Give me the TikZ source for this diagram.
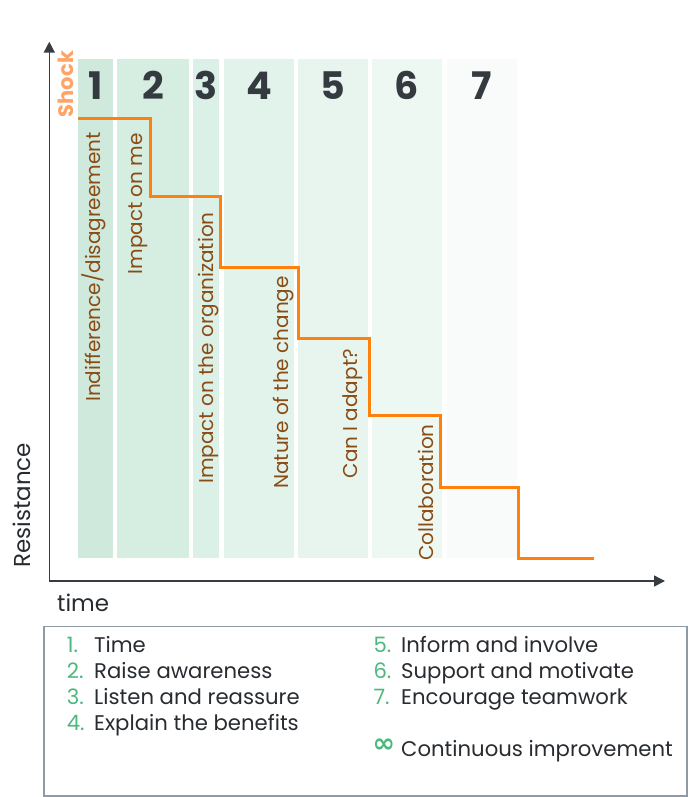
\documentclass[tikz,border=0pt]{standalone}
\usepackage{fontspec}
\setmainfont{Poppins}
\newfontfamily\symfont{DejaVu Sans}
\usetikzlibrary{arrows.meta}
\definecolor{cA}{RGB}{207,234,221}
\definecolor{cB}{RGB}{214,237,226}
\definecolor{cC}{RGB}{219,240,230}
\definecolor{cD}{RGB}{225,243,234}
\definecolor{cE}{RGB}{231,245,238}
\definecolor{cF}{RGB}{238,248,243}
\definecolor{cG}{RGB}{248,251,250}
\definecolor{stepor}{RGB}{255,128,10}
\definecolor{shockor}{RGB}{255,163,102}
\definecolor{labbrown}{RGB}{138,76,20}
\definecolor{numdark}{RGB}{52,58,64}
\definecolor{axisdark}{RGB}{55,60,66}
\definecolor{leggreen}{RGB}{76,184,125}
\definecolor{legtext}{RGB}{40,44,48}
\definecolor{boxgray}{RGB}{143,154,165}
\tikzset{
  bignum/.style={font=\fontsize{38}{40}\selectfont\bfseries, text=numdark, inner sep=0, anchor=base},
  vlabel/.style={font=\fontsize{20}{22}\selectfont, text=labbrown, rotate=90, inner sep=0, anchor=base east},
  axisline/.style={draw=axisdark, line width=1.5pt, -{Triangle[length=11pt,width=11pt]}},
  stepline/.style={draw=stepor, line width=3pt, line join=miter},
  legnum/.style={font=\fontsize{21.2}{23}\selectfont, text=leggreen, inner sep=0, anchor=base west},
  legitem/.style={font=\fontsize{21.2}{23}\selectfont, text=legtext, inner sep=0, anchor=base west},
  axlabel/.style={font=\fontsize{23}{25}\selectfont, text=legtext, inner sep=0}
}
\begin{document}
\begin{tikzpicture}[x=1pt,y=-1pt]
\useasboundingbox (0,0) rectangle (688,797);
% columns
\fill[cA] (77.7,59.3) rectangle (112.7,557.7);
\fill[cB] (117,59.3) rectangle (188.7,557.7);
\fill[cC] (192.7,59.3) rectangle (219.3,557.7);
\fill[cD] (224,59.3) rectangle (294,557.7);
\fill[cE] (298.3,59.3) rectangle (367.7,557.7);
\fill[cF] (372,59.3) rectangle (442,557.7);
\fill[cG] (446.7,59.3) rectangle (516.7,557.7);
% numbers
\node[bignum] (n1) at (95.2,100) {1};
\node[bignum] (n2) at (152.9,100) {2};
\node[bignum] (n3) at (206,100) {3};
\node[bignum] (n4) at (259,100) {4};
\node[bignum] (n5) at (333,100) {5};
\node[bignum] (n6) at (407,100) {6};
\node[bignum] (n7) at (481.7,100) {7};
% axes
\coordinate (origin) at (49.3,581);
\coordinate (ytip) at (49.3,41.7);
\coordinate (xtip) at (665,581);
\draw[axisline] (origin) -- (ytip);
\draw[axisline] (origin) -- (xtip);
% step line
\draw[stepline] (78,119) -- (150,119) -- (150,196) -- (220.7,196) -- (220.7,267.7)
  -- (298.3,267.7) -- (298.3,338.3) -- (369,338.3) -- (369,415.7) -- (440.7,415.7)
  -- (440.7,487.3) -- (518.3,487.3) -- (518.3,558.7) -- (594.3,558.7);
% labels
\node[font=\fontsize{21}{23}\selectfont\bfseries, text=shockor, rotate=90, inner sep=0, anchor=base west] (shock) at (73.3,117.3) {Shock};
\node[vlabel] (l1) at (100,132) {Indifference/disagreement};
\node[vlabel] (l2) at (142,133) {Impact on me};
\node[vlabel] (l3) at (213,212) {Impact on the organization};
\node[vlabel] (l4) at (288,276) {Nature of the change};
\node[vlabel] (l5) at (357,349) {Can I adapt?};
\node[vlabel] (l6) at (433,424) {Collaboration};
\node[axlabel, rotate=90, anchor=base west] (res) at (30,568) {Resistance};
\node[axlabel, anchor=base west] (time) at (57,611) {time};
% legend
\draw[boxgray, line width=1.2pt] (44,626.5) rectangle (687,796);
\node[legnum] (k1) at (66.7,652.7) {1.};
\node[legitem] (t1) at (94,652.7) {Time};
\node[legnum] (k2) at (66.7,678.7) {2.};
\node[legitem] (t2) at (94,678.7) {Raise awareness};
\node[legnum] (k3) at (66.7,704.7) {3.};
\node[legitem] (t3) at (94,704.7) {Listen and reassure};
\node[legnum] (k4) at (66.7,730.7) {4.};
\node[legitem] (t4) at (94,730.7) {Explain the benefits};
\node[legnum] (k5) at (373.3,652.7) {5.};
\node[legitem] (t5) at (401,652.7) {Inform and involve};
\node[legnum] (k6) at (373.3,678.7) {6.};
\node[legitem] (t6) at (401,678.7) {Support and motivate};
\node[legnum] (k7) at (373.3,704.7) {7.};
\node[legitem] (t7) at (401,704.7) {Encourage teamwork};
\node[font=\symfont\bfseries\fontsize{27}{29}\selectfont, text=leggreen, inner sep=0, anchor=base west] (inf) at (372.5,752) {∞};
\node[legitem] (t8) at (401,756) {Continuous improvement};
\end{tikzpicture}
\end{document}
